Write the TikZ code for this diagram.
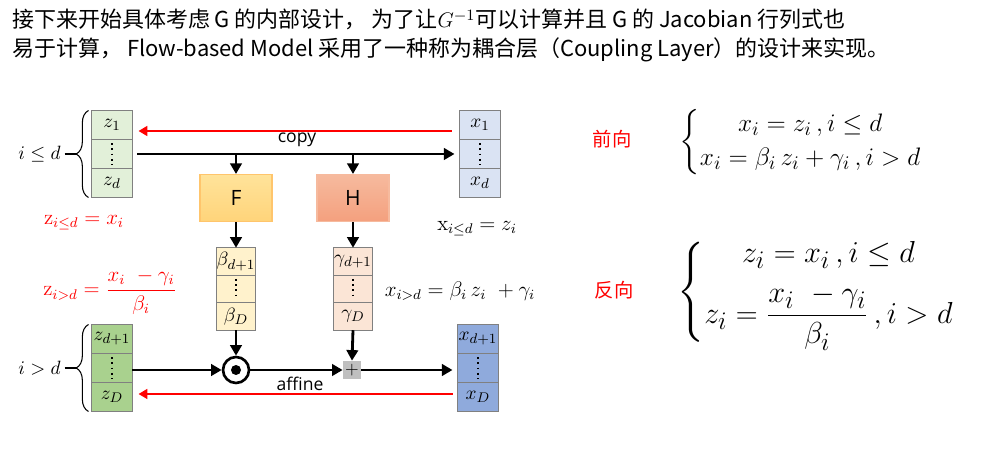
\documentclass[tikz,border=0pt]{standalone}
\usepackage{amsmath,amssymb}
\usepackage{fontspec}
\setsansfont{Open Sans}
\newfontfamily\cjk{Noto Sans CJK SC}
\usetikzlibrary{arrows.meta,calc,positioning,decorations.pathreplacing}

\definecolor{cellgreen}{HTML}{E2F0D9}
\definecolor{cellblue}{HTML}{DAE3F3}
\definecolor{darkgreen}{HTML}{A9D18E}
\definecolor{darkblue}{HTML}{8FAADC}
\definecolor{betafill}{HTML}{FFF2CC}
\definecolor{gammafill}{HTML}{FBE5D6}
\definecolor{ftop}{HTML}{FFE39A}
\definecolor{fbot}{HTML}{FFD47A}
\definecolor{htop}{HTML}{F6BA9E}
\definecolor{hbot}{HTML}{F4A07E}
\definecolor{myred}{HTML}{FF0000}

\tikzset{
  cell/.style={draw=black!50, line width=0.8pt, inner sep=0pt, outer sep=0pt,
    minimum width=0.82cm, minimum height=0.58cm, font=\fontsize{11}{13}\selectfont},
  coef/.style={cell, minimum width=0.78cm, minimum height=0.55cm},
  net/.style={line width=0.6pt, minimum width=1.44cm, minimum height=0.94cm, font=\sffamily\large},
  flow/.style={line width=1.6pt, -{Triangle[length=6pt,width=6.5pt]}},
  back/.style={myred, line width=1.3pt, -{Triangle[length=5pt,width=5.5pt]}},
  brc/.style={decorate, decoration={brace, amplitude=7pt}, line width=0.6pt},
  lab/.style={font=\sffamily},
}

\begin{document}
\begin{tikzpicture}[x=0.02cm, y=-0.02cm]
\useasboundingbox (0,0) rectangle (1008,449);

% heading
\node[anchor=north west, inner sep=0pt, align=left, font=\cjk\fontsize{12.5}{16}\selectfont] (head) at (12,9)
  {接下来开始具体考虑 G 的内部设计， 为了让$G^{-1}$可以计算并且 G 的 Jacobian 行列式也\\
   易于计算， Flow-based Model 采用了一种称为耦合层（Coupling Layer）的设计来实现。};

% input / output stacks
\foreach \n/\x/\y/\c/\a/\b in {zt/112/125/cellgreen/z_1/z_d, xt/480/125/cellblue/x_1/x_d,
    zb/112/339/darkgreen/z_{d+1}/z_D, xb/478/339/darkblue/x_{d+1}/x_D}{
  \node[cell, fill=\c] (\n1) at (\x,\y) {$\a$};
  \node[cell, fill=\c, below=0pt of \n1] (\n2) {};
  \node[cell, fill=\c, below=0pt of \n2] (\n3) {$\b$};
  \draw[dotted, line width=1pt] ([yshift=-2pt]\n2.north) -- ([yshift=2pt]\n2.south);
}

% scale / shift stacks
\foreach \n/\x/\c/\a/\b in {bt/236/betafill/\beta_{d+1}/\beta_D, gm/353/gammafill/\gamma_{d+1}/\gamma_D}{
  \node[coef, fill=\c] (\n1) at (\x,261.5) {$\a$};
  \node[coef, fill=\c, below=0pt of \n1] (\n2) {};
  \node[coef, fill=\c, below=0pt of \n2] (\n3) {$\b$};
  \draw[dotted, line width=1pt] ([yshift=-2pt]\n2.north) -- ([yshift=2pt]\n2.south);
}

% networks
\node[net, draw=ftop!70!orange, top color=ftop, bottom color=fbot] (F) at (236,198) {F};
\node[net, draw=htop, top color=htop, bottom color=hbot] (H) at (353,198) {H};

% operators
\node[circle, draw, line width=1.5pt, minimum size=0.52cm, inner sep=0pt,
  path picture={\fill (path picture bounding box.center) circle (0.1cm);}] (mul) at (236,370) {};
\node[fill=black!25, minimum size=0.36cm, inner sep=0pt] (add) at (352,370) {$+$};

% upper half
\draw[back] ([xshift=-0.16cm,yshift=-0.12cm]xt1.west) -- ([xshift=0.12cm,yshift=-0.12cm]zt1.east);
\node[lab] (copy) at (297,140) {copy};
\draw[flow] ([xshift=0.1cm]zt2.east) -- ([xshift=-0.1cm]xt2.west);
\draw[flow] (F |- zt2.east) -- (F.north);
\draw[flow] (H |- zt2.east) -- (H.north);
\draw[flow] (F.south) -- (bt1.north);
\draw[flow] (H.south) -- (gm1.north);

% lower half
\draw[flow] (bt3.south) -- (mul.north);
\draw[flow] (gm3.south) -- (add.north);
\draw[flow] (zb2.east |- mul) -- (mul.west);
\draw[flow] (mul.east) -- (add.west);
\draw[flow] (add.east) -- ($(xb2.west |- add)+(-5,0)$);
\draw[back] ([xshift=-0.1cm,yshift=0.06cm]xb3.west) -- ([xshift=0.12cm,yshift=0.06cm]zb3.east);
\node[lab] (affine) at (300,384) {affine};

% braces
\draw[brc] ([xshift=-0.06cm]zt3.south west) -- ([xshift=-0.06cm]zt1.north west);
\coordinate (tpt) at ($(zt2.west)+(-15,0)$);
\node[anchor=east, inner sep=2pt, font=\fontsize{11}{13}\selectfont] (le) at ($(tpt)+(-12,0)$) {$i\le d$};
\draw[line width=0.6pt] (le.east) -- (tpt);
\draw[brc] ([xshift=-0.06cm]zb3.south west) -- ([xshift=-0.06cm]zb1.north west);
\coordinate (bpt) at ($(zb2.west)+(-15,0)$);
\node[anchor=east, inner sep=2pt, font=\fontsize{11}{13}\selectfont] (gt) at ($(bpt)+(-12,0)$) {$i>d$};
\draw[line width=0.6pt] (gt.east) -- (bpt);

% relations
\node[text=myred, font=\fontsize{12}{14}\selectfont] (zle) at (84,223) {$\mathrm{z}_{i\le d}=x_i$};
\node[text=myred, font=\fontsize{12}{14}\selectfont] (zgt) at (110,292) {$\mathrm{z}_{i>d}=\dfrac{x_i\ -\gamma_i}{\beta_i}$};
\node[font=\fontsize{12}{14}\selectfont] (xle) at (477,229) {$\mathrm{x}_{i\le d}=z_i$};
\node[font=\fontsize{12}{14}\selectfont] (xgt) at (460,291) {$x_{i>d}=\beta_i\,z_i\ +\gamma_i$};

% forward / inverse
\node[text=myred, font=\cjk\fontsize{11}{13}\selectfont] (fw) at (612,139) {前向};
\node[font=\fontsize{15.5}{19}\selectfont] (fweq) at (801,142)
  {$\left\{\begin{array}{@{}c@{}} x_i=z_i\,,i\le d\\ x_i=\beta_i\,z_i+\gamma_i\,,i>d\end{array}\right.$};
\node[text=myred, font=\cjk\fontsize{11}{13}\selectfont] (bw) at (614,290) {反向};
\node[font=\fontsize{19}{23}\selectfont] (bweq) at (815,292)
  {$\Bigg\{\begin{array}{@{}c@{}} z_i=x_i\,,i\le d\\[6pt] z_i=\dfrac{x_i\ -\gamma_i}{\beta_i}\,,i>d\end{array}$};
\end{tikzpicture}
\end{document}
